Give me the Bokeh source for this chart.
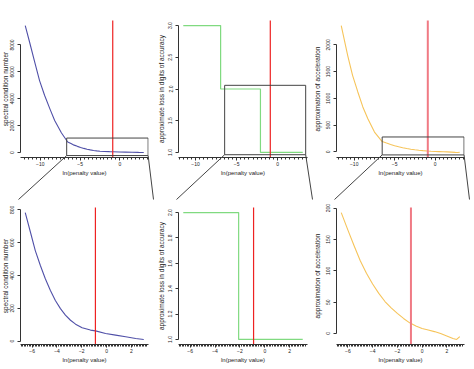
import math
import numpy as np
from bokeh.plotting import figure
from bokeh.layouts import column, row
from bokeh.models import FixedTicker, PrintfTickFormatter, Range1d
from bokeh.core.properties import value
from bokeh.embed import file_html
from bokeh.resources import INLINE

# ---------------- data ----------------
x_label = "ln(penalty value)"
chosen_log_penalty = -0.9          # red vertical line
zoom_start = -6.6                  # zoomed panels show x >= this

cond_x = [-11.9, -11.35, -10.7, -10.1, -9.46, -8.8, -8.2, -7.34, -6.56, -6.15, -5.75,
          -5.34, -4.94, -4.53, -4.13, -3.72, -3.32, -2.91, -2.5, -1.97, -1.3, -0.89,
          -0.08, 0.73, 1.54, 2.35, 3.0]
cond_y = [9440, 8200, 6710, 5350, 4240, 3250, 2380, 1450, 784, 667, 552,
          461, 380, 309, 248, 198, 158, 127, 103, 81, 67, 62,
          46, 36, 26, 16, 10]

loss_x = [-11.5, -6.95, -6.55, -2.1, 3.05]
loss_y = [3, 2, 2, 1, 1]

acc_x = [-11.6, -11.2, -10.8, -10.2, -9.55, -8.93, -8.31, -7.49, -6.54, -6.0, -5.5,
         -5.0, -4.5, -4.0, -3.5, -3.0, -2.5, -2.0, -1.5, -1.0, -0.5, 0.0, 0.5,
         1.0, 1.5, 2.0, 2.5, 2.8, 3.05]
acc_y = [2360, 2080, 1800, 1430, 1120, 840, 620, 370, 193, 165, 140,
         116, 96, 79, 64, 51, 41, 32, 24, 17, 12, 8, 5.5,
         3, 0, -4, -8, -9.5, -5]

# zoom rectangles drawn in the overview panels (left, right, bottom, top)
cond_box = [-6.69, 3.55, -223, 1078]
loss_box = [-6.46, 3.41, 0.964, 2.058]
acc_box = [-6.54, 3.58, -56, 279]

# tick labels
top_xticks = [-10, -5, 0]
bottom_xticks = [-6, -4, -2, 0, 2]
cond_top_yticks = [0, 2000, 4000, 6000, 8000]
cond_bot_yticks = [0, 200, 400, 600, 800]
loss_top_yticks = [1.0, 1.5, 2.0, 2.5, 3.0]
loss_bot_yticks = [1.0, 1.2, 1.4, 1.6, 1.8, 2.0]
acc_top_yticks = [0, 500, 1000, 1500, 2000]
acc_bot_yticks = [0, 50, 100, 150, 200]
top_rug = list(np.arange(-12.0, 3.51, 0.5))
bottom_rug = list(np.arange(-6.875, 3.3, 0.125))

FONT = "Liberation Sans"
BLUE = "#5050a8"
GREEN = "#80da80"
YELLOW = "#f6c45a"
INK = "#333333"
TXT = "#222222"


def r_range(vals):
    lo, hi = float(min(vals)), float(max(vals))
    pad = 0.04 * (hi - lo)
    return lo - pad, hi + pad


def panel(xs, ys, color, step, fw, fh, bl, br, bt, bb, title_off, xticks, rug,
          yticks, yfmt, ylabel, red_color, red_width, box=None):
    xr = r_range(xs)
    yr = r_range(ys)
    dx = (xr[1] - xr[0]) / fw      # data units per pixel
    dy = (yr[1] - yr[0]) / fh
    p = figure(frame_width=fw, frame_height=fh,
               x_range=Range1d(*xr), y_range=Range1d(*yr),
               min_border_left=bl, min_border_right=br,
               min_border_top=bt, min_border_bottom=bb,
               output_backend="svg", toolbar_location=None)
    p.grid.visible = False
    p.outline_line_color = None
    p.background_fill_color = "white"
    p.border_fill_color = "white"

    if step:
        p.step(xs, ys, mode="after", line_color=color, line_width=1.2)
    else:
        p.line(xs, ys, line_color=color, line_width=1.1)

    # vertical reference line over the whole plot region
    p.segment(x0=[chosen_log_penalty], y0=[yr[0] - 5 * dy],
              x1=[chosen_log_penalty], y1=[yr[1] + 5 * dy],
              line_color=red_color, line_width=red_width)

    xa = p.xaxis[0]
    xa.ticker = FixedTicker(ticks=xticks, minor_ticks=rug)
    xa.axis_label = x_label
    xa.major_tick_out = 3
    xa.major_tick_in = 0
    xa.minor_tick_out = 2
    xa.minor_tick_in = 0
    xa.major_label_standoff = 1
    xa.axis_label_standoff = 1
    xa.major_label_text_font = FONT
    xa.major_label_text_font_size = "5px"
    xa.axis_label_text_font = FONT
    xa.axis_label_text_font_size = "6px"
    xa.axis_label_text_font_style = "normal"
    xa.major_label_text_color = TXT
    xa.axis_label_text_color = TXT
    xa.axis_line_color = INK
    xa.major_tick_line_color = INK
    xa.minor_tick_line_color = INK

    ya = p.yaxis[0]
    ya.ticker = FixedTicker(ticks=yticks, minor_ticks=[])
    if yfmt:
        ya.formatter = PrintfTickFormatter(format=yfmt)
    ya.bounds = (yticks[0], yticks[-1])
    ya.major_label_orientation = "vertical"
    ya.major_tick_out = 3
    ya.major_tick_in = 0
    ya.minor_tick_out = 0
    ya.major_label_standoff = 3
    ya.major_label_text_font = FONT
    ya.major_label_text_font_size = "5px"
    ya.major_label_text_color = TXT
    ya.axis_line_color = INK
    ya.major_tick_line_color = INK

    # y axis title, placed in the left margin like R's mtext
    p.text(x=[xr[0] - title_off * dx], y=[(yr[0] + yr[1]) / 2], text=[ylabel],
           angle=math.pi / 2, text_align="center", text_baseline="middle",
           text_font=value(FONT), text_font_size=value("6.5px"),
           text_color=TXT, level="overlay")

    if box is not None:
        p.quad(left=[box[0]], right=[box[1]], bottom=[box[2]], top=[box[3]],
               fill_color=None, line_color="#444444", line_width=1)
        # connector lines from the zoom box towards the zoomed panel below
        y_end = yr[0] - (bb - 1) * dy
        p.segment(x0=[box[0], box[1]], y0=[box[2], box[2]],
                  x1=[xr[0] - 2 * dx, xr[1] + 5 * dx], y1=[y_end, y_end],
                  line_color="#444444", line_width=1, level="overlay")
    return p


def subset(xs, ys):
    pairs = [(a, b) for a, b in zip(xs, ys) if a >= zoom_start]
    return [a for a, _ in pairs], [b for _, b in pairs]


cols = [
    dict(bl=20, br=10, fw=128, toff=15),
    dict(bl=20, br=8, fw=129, toff=17.5),
    dict(bl=21, br=10, fw=128, toff=19),
]
TOP = dict(bt=20, fh=137, bb=43)
BOT = dict(bt=7, fh=137, bb=24)

series = [
    (cond_x, cond_y, BLUE, False, cond_top_yticks, cond_bot_yticks, None,
     "spectral condition number", "#ee2222", 1.2, cond_box),
    (loss_x, loss_y, GREEN, True, loss_top_yticks, loss_bot_yticks, "%.1f",
     "approximate loss in digits of accuracy", "#ee2222", 1.2, loss_box),
    (acc_x, acc_y, YELLOW, False, acc_top_yticks, acc_bot_yticks, None,
     "approximation of acceleration", "#f07a84", 2, acc_box),
]

top_row, bot_row = [], []
for c, (xs, ys, colr, st, yt_top, yt_bot, fmt, ylab, redc, redw, box) in zip(cols, series):
    top_row.append(panel(xs, ys, colr, st, c["fw"], TOP["fh"], c["bl"], c["br"],
                         TOP["bt"], TOP["bb"], c["toff"], top_xticks, top_rug,
                         yt_top, fmt, ylab, redc, redw, box=box))
    sx, sy = subset(xs, ys)
    bot_row.append(panel(sx, sy, colr, st, c["fw"], BOT["fh"], c["bl"], c["br"],
                         BOT["bt"], BOT["bb"], c["toff"], bottom_xticks, bottom_rug,
                         yt_bot, fmt, ylab, redc, redw))

layout = column(row(*top_row, spacing=0), row(*bot_row, spacing=0), spacing=0)

open("out.html", "w").write(file_html(layout, INLINE))
